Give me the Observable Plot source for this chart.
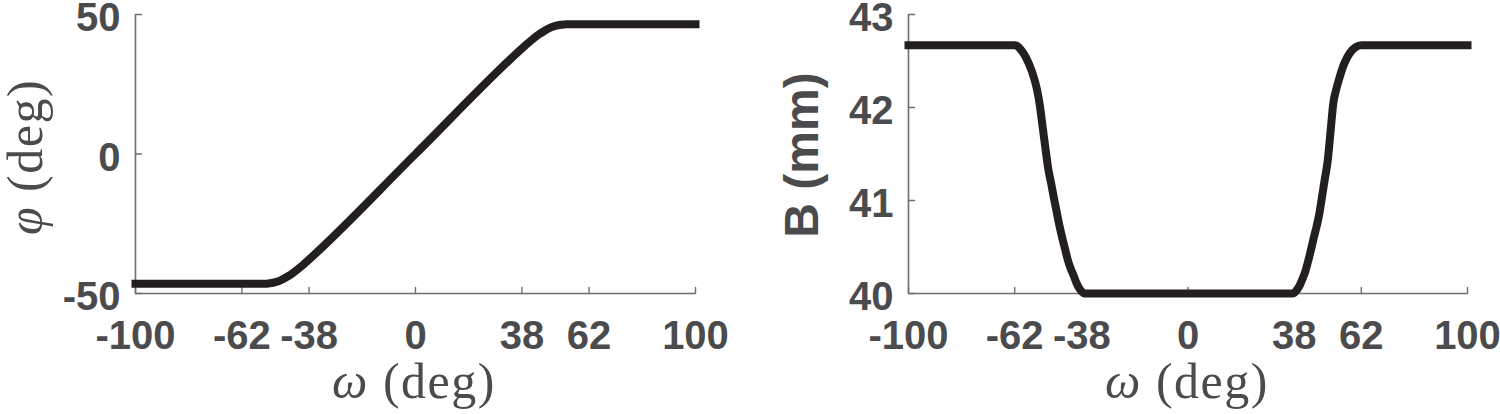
<!DOCTYPE html>
<html>
<head>
<meta charset="utf-8">
<script src="https://cdn.jsdelivr.net/npm/d3@7"></script>
<script src="https://cdn.jsdelivr.net/npm/@observablehq/plot@0.6"></script>
<style>
  html, body { margin: 0; padding: 0; background: #fff; }
  #wrap { display: flex; width: 1500px; height: 414px; }
  #wrap svg { display: block; }
</style>
</head>
<body>
<div id="wrap"></div>
<script>
// ---- data ----
const xTicks = [-100, -62, -38, 0, 38, 62, 100];
const phiTicks = [-50, 0, 50];
const bTicks = [40, 41, 42, 43];

const omegaPhi = [-100, -60, -54, -52, -50, -48, -46, -44, -42, -40, -38, 0, 38, 40, 42, 44, 46, 48, 50, 52, 54, 60, 100];
const phi =      [-46.5, -46.5, -46.5, -46.3, -45.9, -45.2, -44.1, -42.8, -41.3, -39.6, -37.8, 0, 37.8, 39.6, 41.3, 42.8, 44.1, 45.2, 45.9, 46.3, 46.5, 46.5, 46.5];

const omegaB = [-100, -62, -60, -58, -56, -54, -53, -52, -51, -50, -49, -48, -47, -46, -45, -44, -43, -42, -41, -40, -39, -38, -37,
                 37.5, 39, 40, 41, 42, 43, 44, 45, 46, 47, 48, 49, 50, 51, 52, 53, 54, 56, 58, 60, 62, 100];
const bVals =  [42.67, 42.67, 42.63, 42.54, 42.40, 42.19, 42.02, 41.79, 41.56, 41.34, 41.19, 41.03, 40.88, 40.73, 40.60, 40.48, 40.36, 40.27, 40.20, 40.12, 40.06, 40.02, 40.00,
                40.00, 40.04, 40.09, 40.16, 40.24, 40.35, 40.47, 40.60, 40.72, 40.86, 41.05, 41.24, 41.43, 41.74, 42.05, 42.19, 42.30, 42.48, 42.59, 42.65, 42.67, 42.67];

// ---- styles ----
const lineColor = "#231f20";
const axisColor = "#6d6e71";
const textColor = "#4b4b4d";
const tickShape = { draw(ctx, l) { ctx.moveTo(0, 0); ctx.lineTo(0, -l); } };

function panel({xs, ys, xDomain, yDomain, yTicks, marginLeft, marginRight}) {
  const data = xs.map((x, i) => ({x, y: ys[i]}));
  return Plot.plot({
    width: 750, height: 414,
    marginLeft, marginRight, marginTop: 14, marginBottom: 121,
    style: { fontFamily: "'Liberation Sans', Arial, sans-serif", background: "transparent", overflow: "visible" },
    x: { domain: xDomain },
    y: { domain: yDomain },
    marks: [
      Plot.ruleX([xDomain[0]], { stroke: axisColor, strokeWidth: 1.6 }),
      Plot.ruleY([yDomain[0]], { stroke: axisColor, strokeWidth: 1.6 }),
      Plot.vector(xTicks, { x: d => d, frameAnchor: "bottom", length: 6, anchor: "start", rotate: 0, shape: tickShape, stroke: axisColor, strokeWidth: 1.4 }),
      Plot.vector(yTicks, { y: d => d, frameAnchor: "left", length: 6, anchor: "start", rotate: 90, shape: tickShape, stroke: axisColor, strokeWidth: 1.4 }),
      Plot.axisX(xTicks, { tickSize: 0, tickPadding: 27, fontSize: 40, fontWeight: "bold", fill: textColor, tickFormat: d => String(d), label: null }),
      Plot.axisY(yTicks, { tickSize: 0, tickPadding: 15, dy: 4, fontSize: 40, fontWeight: "bold", fill: textColor, tickFormat: d => String(d), label: null }),
      Plot.line(data, { x: "x", y: "y", stroke: lineColor, strokeWidth: 8, strokeLinecap: "square", strokeLinejoin: "round", curve: "monotone-x" })
    ]
  });
}

const left = panel({ xs: omegaPhi, ys: phi, xDomain: [-100, 100], yDomain: [-50, 50], yTicks: phiTicks, marginLeft: 135, marginRight: 55 });
const right = panel({ xs: omegaB, ys: bVals, xDomain: [-100, 100], yDomain: [40, 43], yTicks: bTicks, marginLeft: 158, marginRight: 33 });

const wrap = document.getElementById("wrap");
wrap.appendChild(left);
wrap.appendChild(right);

// axis titles
function serifLabel(svg, x, y, sym, rotate) {
  const t = d3.select(svg).append("text")
    .attr("transform", `translate(${x},${y})` + (rotate ? " rotate(-90)" : ""))
    .attr("text-anchor", "middle")
    .attr("font-family", "'Liberation Serif', 'Times New Roman', serif")
    .attr("font-size", 50)
    .attr("letter-spacing", 1.5)
    .attr("fill", textColor);
  t.append("tspan").attr("font-style", "italic").text(sym);
  t.append("tspan").text(" (deg)");
}
serifLabel(left, 414, 398, "ω", false);
serifLabel(left, 42, 157, "φ", true);
serifLabel(right, 437, 398, "ω", false);

d3.select(right).append("text")
  .attr("transform", "translate(68,155) rotate(-90)")
  .attr("text-anchor", "middle")
  .attr("font-family", "'Liberation Sans', Arial, sans-serif")
  .attr("font-weight", "bold")
  .attr("font-size", 48)
  .attr("fill", textColor)
  .text("B (mm)");
</script>
</body>
</html>
